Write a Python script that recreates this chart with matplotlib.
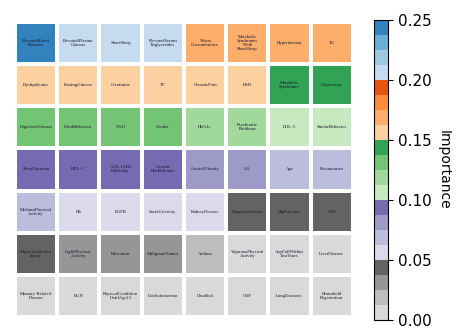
import numpy as np
import matplotlib

matplotlib.use("Agg")
import matplotlib.pyplot as plt

# Feature names in ranked order, laid out row by row (8 per row).
features = [
    "ElevatedBlood\nPressure", "ElevatedPlasma\nGlucose", "ShortSleep", "ElevatedSerum\nTriglycerides",
    "Waist\nCircumference", "Metabolic\nSyndromes\nWith\nShortSleep", "Hypertension", "TG",
    "Dyslipidemia", "FastingGlucose", "Creatinine", "TC",
    "ChronicPain", "BMI", "Metabolic\nSyndromes", "Depression",
    "DigestiveDisease", "DrinkBehavior", "CKD", "Gender",
    "HbA1c", "Psychiatric\nProblems", "LDL-C", "SmokeBehavior",
    "SleepDuration", "HDL-C", "ADL IADL\nDifficulty", "Current\nHealthStatus",
    "CentralObesity", "UA", "Age", "Rheumatism",
    "MediumPhysical\nActivity", "Hb", "EGFR", "SocialActivity",
    "KidneyDisease", "DepressionScore", "HipFracture", "CRP",
    "MajorAccidental\nInjury", "LightPhysical\nActivity", "Education", "MalignantTumor",
    "Asthma", "VigorousPhysical\nActivity", "AnyFallWithin\nTwoYears", "LiverDisease",
    "Memory-Related\nDisease", "BUN", "PhysicalCondition\nUntilAge15", "LifeSatisfaction",
    "Disabled", "CRP", "LungDiseases", "Household\nRegistration",
]

importance = [
    0.245, 0.208, 0.206, 0.203, 0.172, 0.170, 0.168, 0.166,
    0.161, 0.159, 0.158, 0.156, 0.155, 0.153, 0.148, 0.145,
    0.136, 0.134, 0.131, 0.128, 0.122, 0.118, 0.110, 0.104,
    0.098, 0.096, 0.093, 0.090, 0.085, 0.080, 0.073, 0.070,
    0.066, 0.061, 0.058, 0.055, 0.052, 0.048, 0.045, 0.042,
    0.039, 0.036, 0.033, 0.029, 0.020, 0.011, 0.010, 0.009,
    0.008, 0.007, 0.006, 0.005, 0.004, 0.003, 0.002, 0.001,
]

n_cols = 8
n_rows = len(importance) // n_cols
grid = np.array(importance).reshape(n_rows, n_cols)

fig = plt.figure(figsize=(4.74, 3.32), dpi=100)
ax = fig.add_axes([0.0316, 0.0452, 0.713, 0.8886])
cax = fig.add_axes([0.789, 0.036, 0.0295, 0.904])

mesh = ax.pcolormesh(grid, cmap="tab20c_r", vmin=0, vmax=0.25,
                     edgecolors="white", linewidth=1.6)
ax.set_xlim(0, n_cols)
ax.set_ylim(n_rows, 0)
ax.axis("off")

for i, name in enumerate(features):
    r, c = divmod(i, n_cols)
    ax.text(c + 0.5, r + 0.5, name, ha="center", va="center",
            fontsize=3.4, family="Liberation Serif", color="#1a1a2e",
            linespacing=1.0)

cbar = fig.colorbar(mesh, cax=cax)
cbar.set_ticks([0.0, 0.05, 0.10, 0.15, 0.20, 0.25])
cbar.ax.tick_params(labelsize=11)
cbar.set_label("Importance", rotation=270, fontsize=10, labelpad=14)

fig.savefig("out.png", dpi=100)
